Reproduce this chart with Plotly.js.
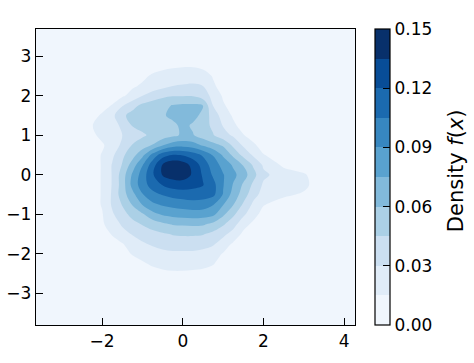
<!DOCTYPE html>
<html>
<head>
<meta charset="utf-8">
<script src="https://cdn.plot.ly/plotly-3.0.1.min.js"></script>
<style>html,body{margin:0;padding:0;background:#fff;}#chart{width:474px;height:363px;}</style>
</head>
<body>
<div id="chart"></div>
<script>
// Grid coordinates (data units)
const xGrid = [-4, -3, -2.5, -2, -1.75, -1.5, -1.25, -1, -0.75, -0.5, -0.25, 0, 0.25, 0.5, 0.75, 1, 1.25, 1.5, 1.75, 2, 2.5, 3, 3.5, 4.5];
const yGrid = [-4, -3, -2.5, -2.25, -2, -1.75, -1.5, -1.25, -1, -0.75, -0.5, -0.25, 0, 0.25, 0.5, 0.75, 1, 1.25, 1.5, 1.75, 2, 2.25, 2.5, 3, 4];

// Density values, one row per yGrid value (bottom to top)
const rowYm4    = [0,0,0,0,0,0,0,0,0,0,0,0,0,0,0,0,0,0,0,0,0,0,0,0];
const rowYm3    = [0,0,0,0,0,0,0.001,0.001,0.002,0.003,0.003,0.003,0.003,0.002,0.001,0,0,0,0,0,0,0,0,0];
const rowYm2_5  = [0,0,0,0,0.001,0.002,0.004,0.007,0.010,0.012,0.013,0.013,0.012,0.011,0.008,0.004,0.002,0,0,0,0,0,0,0];
const rowYm2_25 = [0,0,0,0.001,0.003,0.006,0.009,0.013,0.017,0.019,0.020,0.020,0.020,0.019,0.016,0.009,0.004,0.002,0,0,0,0,0,0];
const rowYm2    = [0,0,0,0.003,0.006,0.010,0.016,0.020,0.023,0.026,0.027,0.027,0.027,0.025,0.021,0.014,0.008,0.004,0.002,0,0,0,0,0];
const rowYm1_75 = [0,0,0.001,0.005,0.010,0.014,0.022,0.028,0.032,0.035,0.037,0.037,0.037,0.036,0.032,0.022,0.013,0.007,0.003,0.001,0,0,0,0];
const rowYm1_5  = [0,0,0.001,0.009,0.016,0.025,0.031,0.036,0.040,0.043,0.046,0.047,0.047,0.046,0.041,0.034,0.024,0.012,0.006,0.002,0,0,0,0];
const rowYm1_25 = [0,0,0.002,0.013,0.022,0.032,0.040,0.046,0.052,0.057,0.061,0.062,0.063,0.062,0.056,0.047,0.036,0.020,0.012,0.005,0.001,0,0,0];
const rowYm1    = [0,0,0.003,0.014,0.028,0.039,0.050,0.058,0.070,0.077,0.080,0.082,0.083,0.082,0.079,0.063,0.048,0.033,0.020,0.010,0.003,0,0,0];
const rowYm0_75 = [0,0,0.003,0.016,0.032,0.046,0.061,0.076,0.087,0.092,0.095,0.097,0.099,0.098,0.091,0.076,0.061,0.043,0.027,0.016,0.008,0.004,0,0];
const rowYm0_5  = [0,0,0.003,0.016,0.032,0.053,0.070,0.089,0.100,0.106,0.110,0.112,0.113,0.112,0.109,0.089,0.069,0.053,0.035,0.025,0.018,0.013,0.002,0];
const rowYm0_25 = [0,0,0.003,0.016,0.031,0.052,0.080,0.098,0.112,0.121,0.127,0.128,0.125,0.121,0.110,0.091,0.074,0.058,0.042,0.028,0.022,0.019,0.004,0];
const rowY0     = [0,0,0.003,0.016,0.031,0.052,0.077,0.097,0.118,0.136,0.142,0.143,0.133,0.118,0.103,0.091,0.079,0.067,0.050,0.033,0.023,0.017,0.003,0];
const rowY0_25  = [0,0,0.002,0.016,0.031,0.046,0.067,0.089,0.113,0.136,0.146,0.143,0.130,0.114,0.098,0.085,0.073,0.059,0.043,0.028,0.012,0.006,0,0];
const rowY0_5   = [0,0,0.002,0.016,0.027,0.042,0.054,0.071,0.095,0.114,0.121,0.119,0.113,0.103,0.089,0.073,0.057,0.041,0.028,0.016,0.005,0.002,0,0];
const rowY0_75  = [0,0,0.002,0.013,0.022,0.033,0.046,0.052,0.061,0.074,0.083,0.085,0.082,0.073,0.065,0.058,0.042,0.028,0.018,0.008,0.002,0,0,0];
const rowY1     = [0,0.001,0.005,0.019,0.024,0.030,0.036,0.043,0.048,0.052,0.057,0.062,0.061,0.053,0.046,0.036,0.028,0.016,0.008,0.004,0.001,0,0,0];
const rowY1_25  = [0,0.001,0.008,0.021,0.026,0.032,0.046,0.049,0.049,0.052,0.056,0.064,0.058,0.051,0.042,0.029,0.018,0.009,0.005,0.002,0,0,0,0];
const rowY1_5   = [0,0,0.004,0.017,0.026,0.042,0.050,0.052,0.053,0.058,0.064,0.071,0.065,0.056,0.038,0.024,0.013,0.006,0.003,0.001,0,0,0,0];
const rowY1_75  = [0,0,0.002,0.010,0.016,0.029,0.040,0.049,0.053,0.056,0.061,0.063,0.063,0.060,0.030,0.017,0.009,0.004,0.002,0.001,0,0,0,0];
const rowY2     = [0,0,0.001,0.004,0.008,0.013,0.020,0.030,0.037,0.042,0.044,0.044,0.044,0.037,0.026,0.013,0.007,0.003,0.001,0,0,0,0,0];
const rowY2_25  = [0,0,0,0.002,0.004,0.008,0.013,0.017,0.022,0.026,0.030,0.031,0.032,0.030,0.017,0.010,0.005,0.002,0.001,0,0,0,0,0];
const rowY2_5   = [0,0,0,0.001,0.002,0.003,0.006,0.012,0.017,0.020,0.022,0.024,0.024,0.021,0.014,0.008,0.004,0.002,0.001,0,0,0,0,0];
const rowY3     = [0,0,0,0,0,0,0,0.001,0.002,0.003,0.004,0.004,0.004,0.003,0.002,0.001,0,0,0,0,0,0,0,0];
const rowY4     = [0,0,0,0,0,0,0,0,0,0,0,0,0,0,0,0,0,0,0,0,0,0,0,0];

const densityRows = [rowYm4, rowYm3, rowYm2_5, rowYm2_25, rowYm2, rowYm1_75, rowYm1_5, rowYm1_25, rowYm1, rowYm0_75,
  rowYm0_5, rowYm0_25, rowY0, rowY0_25, rowY0_5, rowY0_75, rowY1, rowY1_25, rowY1_5, rowY1_75, rowY2, rowY2_25, rowY2_5, rowY3, rowY4];

// Contour levels and colour bar ticks
const levelStart = 0.015, levelEnd = 0.135, levelStep = 0.015;
const zMin = 0, zMax = 0.15;
const cbTickVals = [0, 0.03, 0.06, 0.09, 0.12, 0.15];
const cbTickText = ['0.00', '0.03', '0.06', '0.09', '0.12', '0.15'];
const xTickVals = [-2, 0, 2, 4];
const yTickVals = [-3, -2, -1, 0, 1, 2, 3];
const cbTitle = 'Density <i>f</i>(<i>x</i>)';

// Blues colormap sampled for the 10 bands
const bandColors = ['rgb(240,246,253)','rgb(224,236,248)','rgb(203,223,241)','rgb(171,208,230)','rgb(130,186,219)',
  'rgb(89,162,207)','rgb(55,135,192)','rgb(27,106,175)','rgb(8,77,151)','rgb(8,48,107)'];

const colorscale = [];
bandColors.forEach((c, i) => {
  colorscale.push([i / bandColors.length, c]);
  colorscale.push([(i + 1) / bandColors.length, c]);
});

const font = 'DejaVu Sans, sans-serif';

const trace = {
  type: 'contour',
  x: xGrid,
  y: yGrid,
  z: densityRows,
  zmin: zMin,
  zmax: zMax,
  autocontour: false,
  contours: {start: levelStart, end: levelEnd, size: levelStep, coloring: 'fill', showlines: false},
  line: {width: 0, smoothing: 1.0},
  colorscale: colorscale,
  hoverinfo: 'skip',
  colorbar: {
    x: 1.0627, xanchor: 'left', xpad: 0,
    y: 0.5, yanchor: 'middle', ypad: 0,
    len: 296, lenmode: 'pixels',
    thickness: 15, thicknessmode: 'pixels',
    outlinewidth: 1.2, outlinecolor: '#000',
    tickmode: 'array', tickvals: cbTickVals, ticktext: cbTickText,
    ticks: 'inside', ticklen: 7, tickwidth: 1.2, tickcolor: '#000',
    tickfont: {family: font, size: 17, color: '#000'}
  }
};

const axisBase = {
  showgrid: false, zeroline: false,
  showline: true, linecolor: '#000', linewidth: 1.2, mirror: true,
  ticks: 'inside', ticklen: 7, tickwidth: 1.2, tickcolor: '#000',
  tickfont: {family: font, size: 17, color: '#000'}
};

const layout = {
  width: 474, height: 363,
  margin: {l: 36, r: 119, t: 29, b: 38},
  paper_bgcolor: '#fff', plot_bgcolor: bandColors[0],
  font: {family: font, color: '#000'},
  xaxis: Object.assign({}, axisBase, {range: [-3.64, 4.27], tickmode: 'array', tickvals: xTickVals}),
  yaxis: Object.assign({}, axisBase, {range: [-3.80, 3.69], tickmode: 'array', tickvals: yTickVals}),
  annotations: [{
    xref: 'paper', yref: 'paper', x: 1.317, y: 0.52, xanchor: 'center', yanchor: 'middle',
    text: cbTitle, textangle: -90, showarrow: false,
    font: {family: font, size: 21, color: '#000'}
  }],
  showlegend: false
};

Plotly.newPlot('chart', [trace], layout, {displayModeBar: false, staticPlot: true});
</script>
</body>
</html>
